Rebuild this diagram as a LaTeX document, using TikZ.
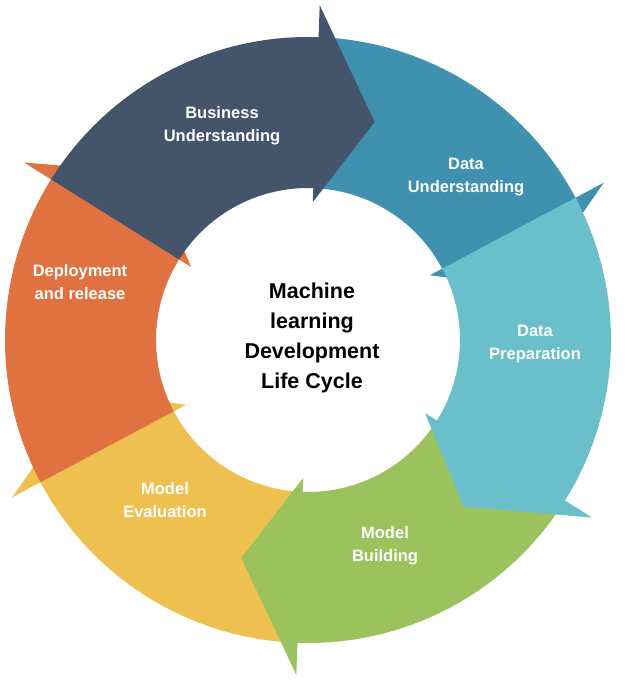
\documentclass[tikz,border=0pt]{standalone}
\usepackage{fontspec}
\setmainfont{Liberation Sans}
\definecolor{cdark}{HTML}{44546A}
\definecolor{cblue}{HTML}{3F91AF}
\definecolor{ccyan}{HTML}{6ABFCB}
\definecolor{cgreen}{HTML}{9BC25C}
\definecolor{cyellow}{HTML}{EEC04F}
\definecolor{corange}{HTML}{DF7240}
\newcommand{\cycseg}[2]{%
  \pgfmathsetmacro{\tl}{#1}\pgfmathsetmacro{\bs}{#1-60}\pgfmathsetmacro{\tp}{#1-75}%
  \fill[#2] (\tl:303pt) arc[start angle=\tl,end angle=\bs,radius=303pt] -- (\bs:335pt) -- (\tp:228pt) -- (\bs:138pt) -- (\bs:152pt) arc[start angle=\bs,end angle=\tl,radius=152pt] -- cycle;}
\tikzset{lbl/.style={text=white,font=\bfseries\fontsize{16.5}{23}\selectfont,align=center}}
\begin{document}
\begin{tikzpicture}[x=1pt,y=1pt]
\useasboundingbox[fill=white] (0,0) rectangle (629,680);
\begin{scope}[shift={(308,340)}]
\cycseg{268}{cyellow}
\cycseg{328}{cgreen}
\cycseg{88}{cblue}
\cycseg{28}{ccyan}
\cycseg{208}{corange}
\cycseg{148}{cdark}
\end{scope}
\node[lbl] (bu) at (222,554) {Business\\Understanding};
\node[lbl] (du) at (466,503) {Data\\Understanding};
\node[lbl] (dp) at (535,336) {Data\\Preparation};
\node[lbl] (mb) at (385,134) {Model\\Building};
\node[lbl] (me) at (165,180) {Model\\Evaluation};
\node[lbl] (dr) at (80,398) {Deployment\\and release};
\node[font=\bfseries\fontsize{21.5}{30}\selectfont,align=center] (c) at (312,342) {Machine\\learning\\Development\\Life Cycle};
\end{tikzpicture}
\end{document}
